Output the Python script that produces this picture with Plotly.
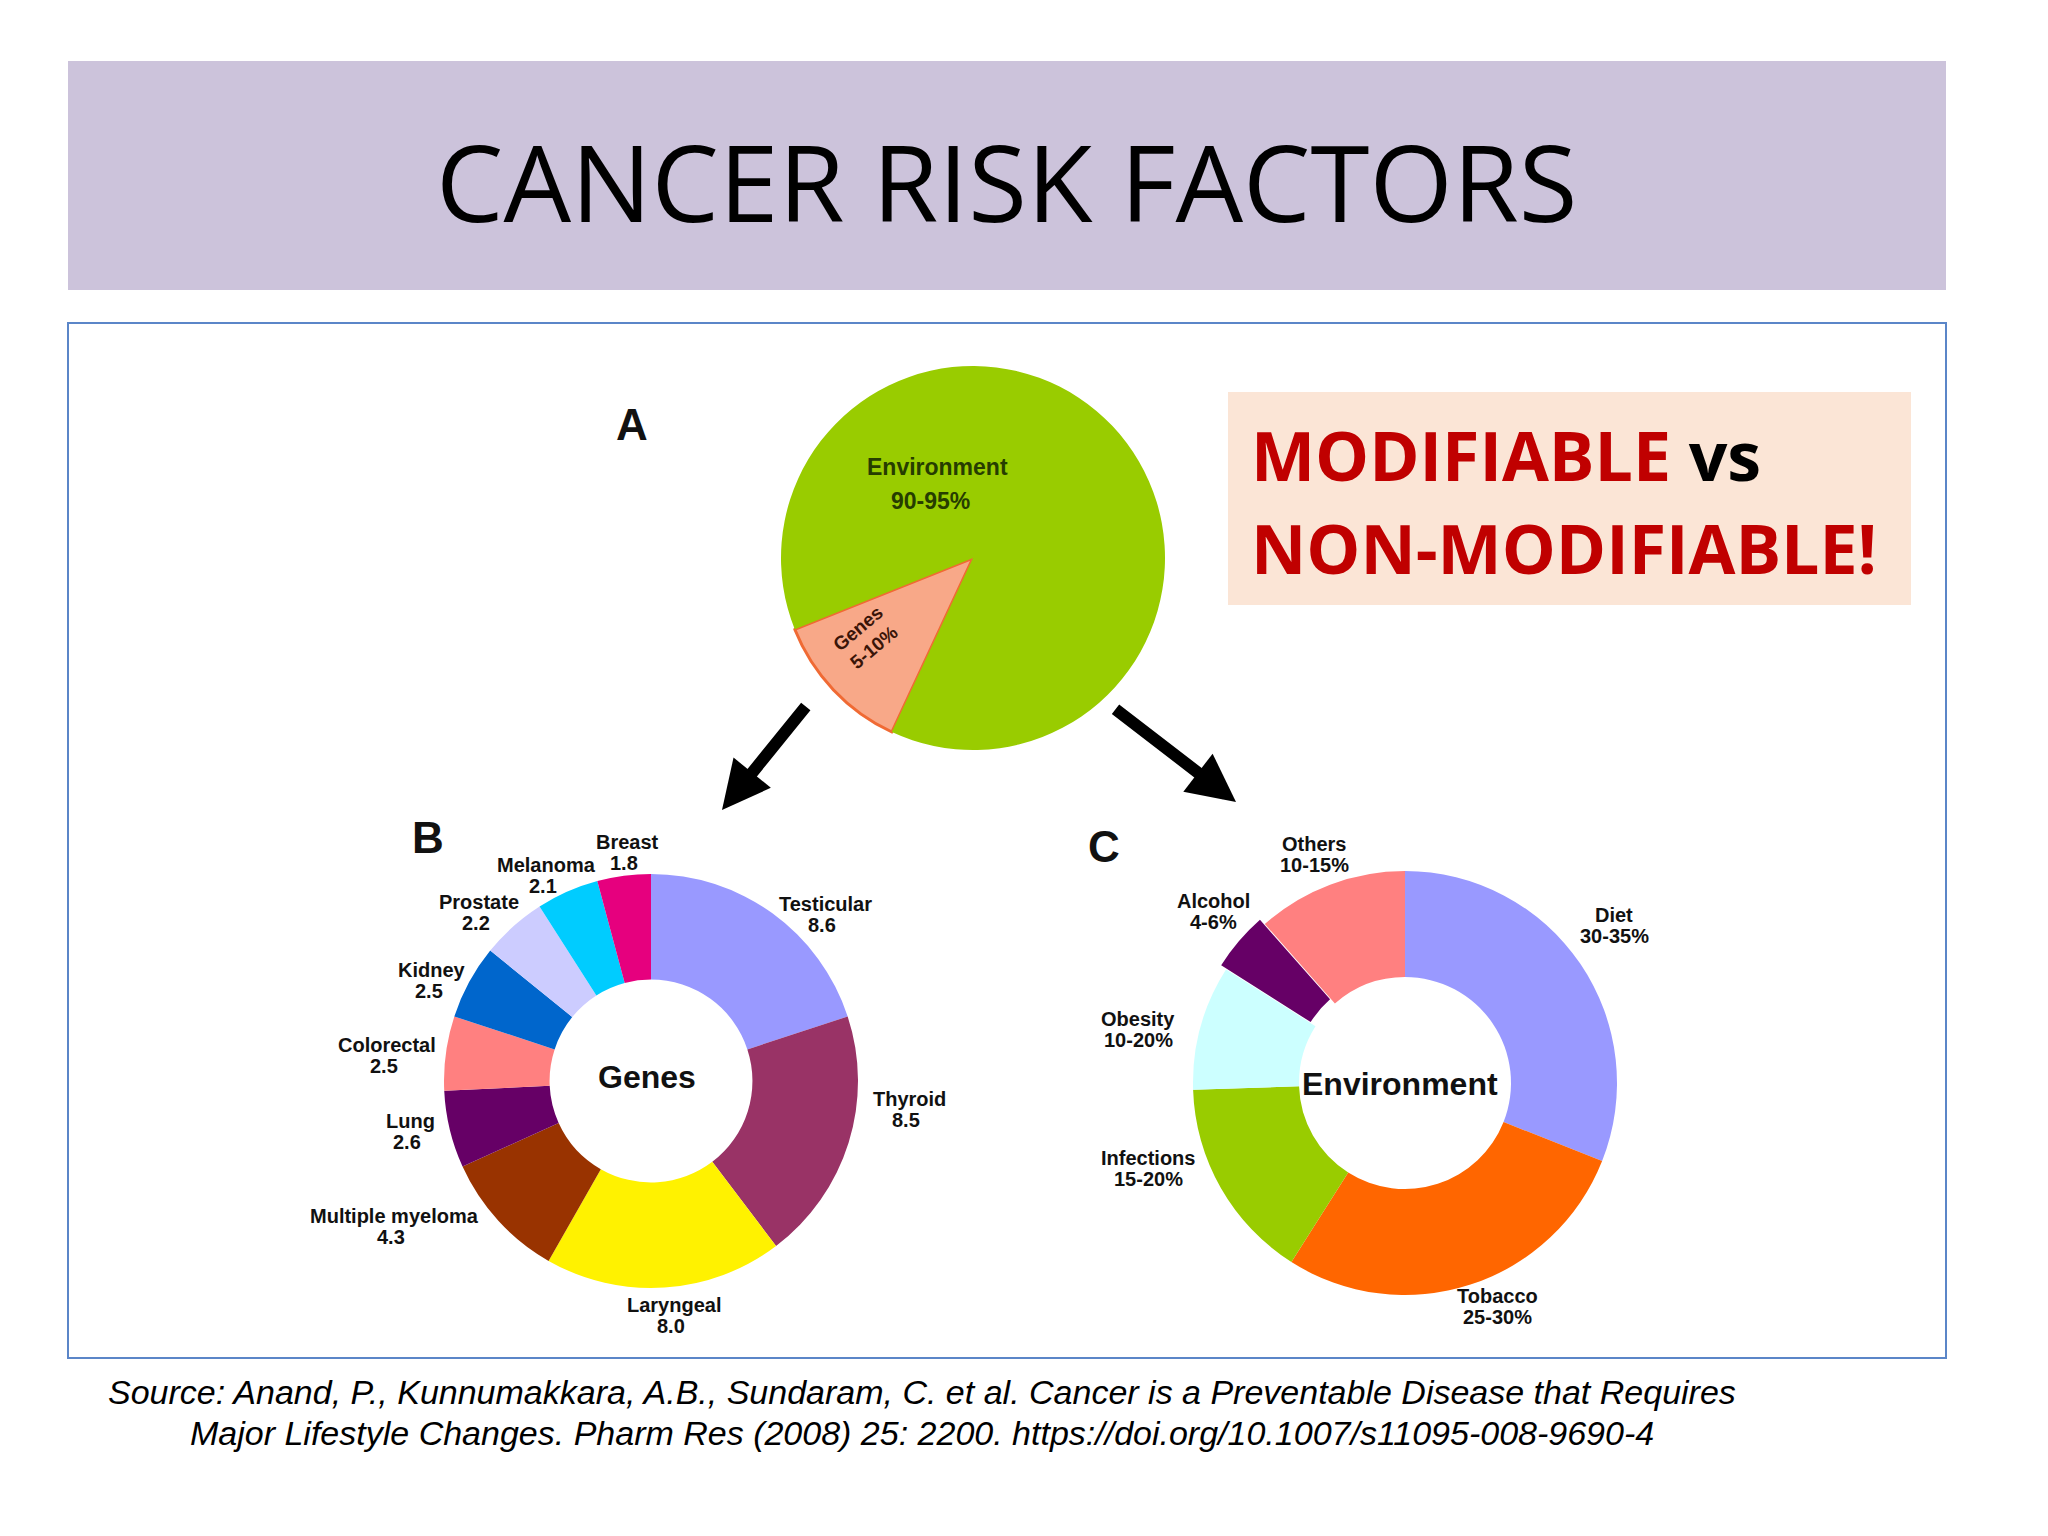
import plotly.graph_objects as go

# ---------------- data ----------------
a_labels = ["Genes", "Environment"]
a_values = [12, 88]
a_text = ["Genes<br>5-10%", "Environment<br>90-95%"]

b_labels = ["Testicular", "Thyroid", "Laryngeal", "Multiple myeloma", "Lung",
            "Colorectal", "Kidney", "Prostate", "Melanoma", "Breast"]
b_values = [8.6, 8.5, 8.0, 4.3, 2.6, 2.5, 2.5, 2.2, 2.1, 1.8]

c_labels = ["Diet", "Tobacco", "Infections", "Obesity", "Alcohol", "Others"]
c_ranges = ["30-35%", "25-30%", "15-20%", "10-20%", "4-6%", "10-15%"]
c_values = [31, 28, 15.5, 9.5, 4.5, 11.5]

title_text = "CANCER RISK FACTORS"
source_lines = [
    "Source: Anand, P., Kunnumakkara, A.B., Sundaram, C. et al. Cancer is a Preventable Disease that Requires",
    "Major Lifestyle Changes. Pharm Res (2008) 25: 2200. https://doi.org/10.1007/s11095-008-9690-4",
]

# ---------------- styling / layout ----------------
W, H = 2048, 1536


def px(x):
    return x / W


def py(y):
    return 1 - y / H


def dom(cx, cy, r):
    return dict(x=[px(cx - r), px(cx + r)], y=[py(cy + r), py(cy - r)])


a_colors = ["#F8A888", "#99CC00"]
b_colors = ["#9999FF", "#993366", "#FFF200", "#993300", "#660066",
            "#FF8080", "#0066CC", "#CCCCFF", "#00CCFF", "#E6007E"]
c_colors = ["#9999FF", "#FF6600", "#99CC00", "#CCFFFF", "#660066", "#FF8080"]
c_pull = [0, 0, 0, 0, 0.03, 0]

LBL = "Liberation Sans, Arial, sans-serif"

fig = go.Figure()

fig.add_trace(go.Pie(
    labels=a_labels, values=a_values, sort=False, direction="clockwise",
    rotation=205, textinfo="none", hoverinfo="label+percent",
    marker=dict(colors=a_colors, line=dict(color=["#F06A34", "#99CC00"], width=[3, 0])),
    domain=dom(973, 558, 192), showlegend=False,
))

fig.add_trace(go.Pie(
    labels=b_labels, values=b_values, sort=False, direction="clockwise",
    rotation=0, hole=0.49, textinfo="none", hoverinfo="label+value",
    marker=dict(colors=b_colors, line=dict(width=0)),
    domain=dom(651, 1081, 207), showlegend=False,
))

fig.add_trace(go.Pie(
    labels=c_labels, values=c_values, sort=False, direction="clockwise",
    rotation=0, hole=0.50, textinfo="none", hoverinfo="label+value",
    pull=c_pull,
    marker=dict(colors=c_colors, line=dict(width=0)),
    domain=dom(1405, 1083, 212 * 1.03), showlegend=False,
))

shapes = [
    # title banner
    dict(type="rect", xref="paper", yref="paper", x0=px(68), x1=px(1946),
         y0=py(290), y1=py(61), fillcolor="#CCC3DB", line=dict(width=0), layer="below"),
    # figure frame
    dict(type="rect", xref="paper", yref="paper", x0=px(68), x1=px(1946),
         y0=py(1358), y1=py(323), fillcolor="rgba(0,0,0,0)",
         line=dict(color="#5B86C8", width=2), layer="below"),
    # pink callout
    dict(type="rect", xref="paper", yref="paper", x0=px(1228), x1=px(1911),
         y0=py(605), y1=py(392), fillcolor="#FBE5D6", line=dict(width=0), layer="below"),
]

ann = []


def text(x, y, s, size, color="#111111", family=LBL, xanchor="center", angle=0):
    ann.append(dict(x=px(x), y=py(y), xref="paper", yref="paper", text=s,
                    showarrow=False, xanchor=xanchor, yanchor="middle",
                    textangle=angle, font=dict(size=size, color=color, family=family)))


# title
text(1006, 180, title_text, 107, color="#000000", family="Open Sans, sans-serif")

# callout
ann.append(dict(x=px(1249), y=py(455), xref="paper", yref="paper", showarrow=False,
                xanchor="left", yanchor="middle",
                text="<b>MODIFIABLE <span style='color:#000000'>vs</span></b>",
                font=dict(size=68, color="#C00000", family="Open Sans, sans-serif")))
ann.append(dict(x=px(1249), y=py(547), xref="paper", yref="paper", showarrow=False,
                xanchor="left", yanchor="middle",
                text="<b>NON-MODIFIABLE!</b>",
                font=dict(size=68, color="#C00000", family="Open Sans, sans-serif")))

# panel letters
text(632, 424, "<b>A</b>", 44)
text(428, 837, "<b>B</b>", 44)
text(1104, 846, "<b>C</b>", 44)

# pie A labels
text(937, 467, "<b>Environment</b>", 23, color="#263D00")
text(930, 501, "<b>90-95%</b>", 23, color="#263D00")
text(866, 638, "<b>Genes<br>5-10%</b>", 19, color="#3A1508", angle=-40)

# donut centers
text(647, 1077, "<b>Genes</b>", 32)
text(1400, 1084, "<b>Environment</b>", 32)

# donut B labels (name / value)
b_label_pos = {
    "Testicular": (825, 914), "Thyroid": (909, 1109), "Laryngeal": (674, 1315),
    "Multiple myeloma": (394, 1226), "Lung": (410, 1131), "Colorectal": (387, 1055),
    "Kidney": (432, 980), "Prostate": (479, 912), "Melanoma": (546, 875),
    "Breast": (627, 852),
}
for name, val in zip(b_labels, b_values):
    x, y = b_label_pos[name]
    text(x, y - 10, f"<b>{name}</b>", 20)
    text(x - 3, y + 11, f"<b>{val:.1f}</b>", 20)

c_label_pos = {
    "Diet": (1614, 925), "Tobacco": (1497, 1306), "Infections": (1148, 1168),
    "Obesity": (1138, 1029), "Alcohol": (1213, 911), "Others": (1314, 854),
}
for name, rng in zip(c_labels, c_ranges):
    x, y = c_label_pos[name]
    text(x, y - 10, f"<b>{name}</b>", 20)
    text(x, y + 11, f"<b>{rng}</b>", 20)

# arrows
for (hx, hy, tx, ty) in [(722, 810, 807, 705), (1236, 802, 1114, 708)]:
    ann.append(dict(x=px(hx), y=py(hy), xref="paper", yref="paper",
                    ax=tx - hx, ay=ty - hy, axref="pixel", ayref="pixel",
                    showarrow=True, arrowhead=2, arrowsize=0.8, arrowwidth=12,
                    arrowcolor="#000000", text=""))

# source
text(922, 1392, f"<i>{source_lines[0]}</i>", 34, color="#000000")
text(922, 1433, f"<i>{source_lines[1]}</i>", 34, color="#000000")

fig.update_layout(
    width=W, height=H, margin=dict(l=0, r=0, t=0, b=0),
    paper_bgcolor="white", plot_bgcolor="white",
    shapes=shapes, annotations=ann,
)

fig.write_html("out.html")
